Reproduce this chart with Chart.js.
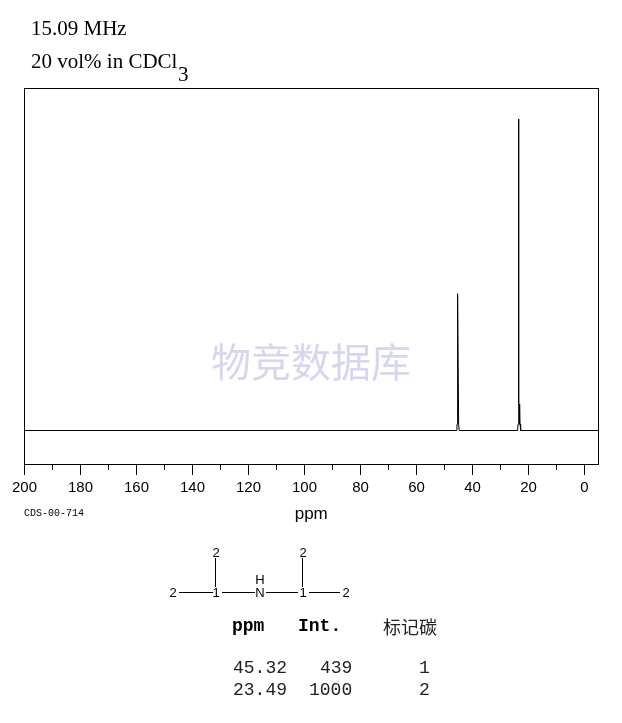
<!DOCTYPE html>
<html>
<head>
<meta charset="utf-8">
<script src="https://cdn.jsdelivr.net/npm/chart.js@4"></script>
<style>
    html, body { margin: 0; padding: 0; background: #fff; }
    #wrap { position: relative; width: 622px; height: 723px; overflow: hidden; }
    #wrap canvas { position: absolute; left: 0; top: 0; }
    .t { position: absolute; white-space: pre; color: #000; line-height: 1; }
    .serif { font-family: "Liberation Serif", serif; font-size: 21px; }
    .mono { font-family: "Liberation Mono", monospace; font-size: 18px; color: #222; }
    .cjk { font-family: "Noto Sans CJK SC", sans-serif; }
    #structure { position: absolute; left: 0; top: 0; }
    #structure text { font-family: "Liberation Sans", sans-serif; font-size: 13px; text-anchor: middle; dominant-baseline: central; }
    #structure line { stroke: #000; stroke-width: 1; }
</style>
</head>
<body>
<div id="wrap">
    <canvas id="nmrChart" width="622" height="723"></canvas>
    <div class="t serif" style="left:31px;top:18px;">15.09 MHz</div>
    <div class="t serif" style="left:31px;top:51px;">20 vol% in CDCl</div>
    <div class="t serif" style="left:178px;top:64px;">3</div>
    <div class="t cjk" style="left:211px;top:340px;font-size:40px;color:#d6d6ee;">物竞数据库</div>
    <div class="t" style="left:24px;top:509px;font-family:'Liberation Mono',monospace;font-size:10px;">CDS-00-714</div>

    <svg id="structure" width="622" height="723">
        <line x1="179" y1="592.5" x2="213" y2="592.5"></line>
        <line x1="222" y1="592.5" x2="255" y2="592.5"></line>
        <line x1="266" y1="592.5" x2="298" y2="592.5"></line>
        <line x1="309" y1="592.5" x2="340" y2="592.5"></line>
        <line x1="215.5" y1="558" x2="215.5" y2="587"></line>
        <line x1="302.5" y1="558" x2="302.5" y2="587"></line>
        <text x="216" y="552">2</text>
        <text x="303" y="552">2</text>
        <text x="173" y="592">2</text>
        <text x="216" y="592">1</text>
        <text x="260" y="592">N</text>
        <text x="260" y="579">H</text>
        <text x="303" y="592">1</text>
        <text x="346" y="592">2</text>
    </svg>

    <div class="t mono" style="left:232px;top:617px;font-weight:bold;color:#000;">ppm</div>
    <div class="t mono" style="left:298px;top:617px;font-weight:bold;color:#000;">Int.</div>
    <div class="t cjk" style="left:383px;top:617px;font-size:18px;color:#222;">标记碳</div>
    <div class="t mono" style="left:233px;top:659px;">45.32</div>
    <div class="t mono" style="left:320px;top:659px;">439</div>
    <div class="t mono" style="left:419px;top:659px;">1</div>
    <div class="t mono" style="left:233px;top:681px;">23.49</div>
    <div class="t mono" style="left:309px;top:681px;">1000</div>
    <div class="t mono" style="left:419px;top:681px;">2</div>
</div>

<script>
// spettro: posizioni in ppm e intensita'
const spectrumPpm = [200, 45.65, 45.55, 45.32, 45.32, 44.95, 44.75, 23.9, 23.75, 23.49, 23.49, 23.1, 23.1, 23.3, 23.3, 23.0, 22.8, -5];
const spectrumInt = [0, 0, 20, 20, 439, 20, 0, 0, 20, 1000, 84, 84, 20, 20, 84, 20, 0, 0];
const tickValues = [200, 190, 180, 170, 160, 150, 140, 130, 120, 110, 100, 90, 80, 70, 60, 50, 40, 30, 20, 10, 0];
const majorStep = 20;

const points = spectrumPpm.map((p, i) => ({ x: p, y: spectrumInt[i] }));

// cornice e tacche: la lunghezza della tacca dipende dal valore
const framePlugin = {
    id: 'frame',
    afterDraw(chart) {
        const c = chart.ctx;
        const a = chart.chartArea;
        const xs = chart.scales.x;
        c.save();
        c.strokeStyle = '#000';
        c.lineWidth = 1;
        c.strokeRect(24.5, a.top + 0.5, 574, a.bottom - a.top);
        c.beginPath();
        xs.ticks.forEach(t => {
            const px = xs.getPixelForValue(t.value);
            const len = t.value % majorStep === 0 ? 11 : 6;
            c.moveTo(px, a.bottom);
            c.lineTo(px, a.bottom + len);
        });
        c.stroke();
        c.restore();
    }
};

const ctx = document.getElementById('nmrChart').getContext('2d');
new Chart(ctx, {
    type: 'line',
    data: {
        datasets: [{
            data: points,
            borderColor: '#000',
            borderWidth: 1,
            pointRadius: 0,
            tension: 0,
            fill: false
        }]
    },
    options: {
        responsive: false,
        animation: false,
        events: [],
        layout: { padding: { left: 24.5, right: 24, top: 88, bottom: 0 } },
        plugins: { legend: { display: false }, tooltip: { enabled: false } },
        scales: {
            x: {
                type: 'linear',
                reverse: true,
                min: -4.82,
                max: 200,
                afterFit: scale => {
                    scale.height = 259;
                    scale.paddingLeft = 0;
                    scale.paddingRight = 0;
                },
                afterBuildTicks: scale => {
                    scale.ticks = tickValues.map(v => ({ value: v }));
                },
                grid: { display: false },
                border: { display: false },
                title: {
                    display: true,
                    text: 'ppm',
                    color: '#000',
                    font: { family: 'Liberation Sans', size: 17 },
                    padding: { top: 0, bottom: 198 }
                },
                ticks: {
                    autoSkip: false,
                    maxRotation: 0,
                    color: '#000',
                    padding: 7,
                    font: { family: 'Liberation Sans', size: 15 },
                    callback: v => (v % majorStep === 0 ? String(v) : '')
                }
            },
            y: {
                display: false,
                min: -107.5,
                max: 1099.5
            }
        }
    },
    plugins: [framePlugin]
});
</script>
</body>
</html>
